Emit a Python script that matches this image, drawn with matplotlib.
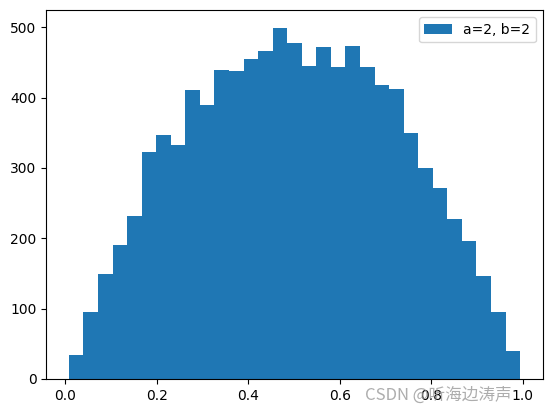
import numpy as np
import matplotlib
matplotlib.use("Agg")
import matplotlib.pyplot as plt

# Histogram counts (31 bins, beta(2,2) samples)
bin_start = 0.0074
bin_end = 0.9943
counts = [34, 95, 149, 190, 231, 322, 347, 332, 410, 390,
          439, 438, 455, 466, 499, 478, 445, 472, 444, 473,
          444, 418, 412, 349, 300, 271, 227, 196, 146, 95, 40]
label = "a=2, b=2"
watermark = "CSDN @听海边涛声"

edges = np.linspace(bin_start, bin_end, len(counts) + 1)
centers = (edges[:-1] + edges[1:]) / 2

fig = plt.figure(figsize=(5.52, 4.13), dpi=100)
ax = fig.add_axes([46.3 / 552, (413 - 379) / 413, 496.4 / 552, 368.7 / 413])
ax.hist(centers, bins=edges, weights=counts, color="#1f77b4", label=label)
ax.legend(loc="upper right")

fig.text(365 / 552, 1 - 395 / 413, watermark, fontsize=12, color="#999999",
         alpha=0.8, va="center", ha="left",
         family=["Noto Sans CJK SC", "DejaVu Sans"])

fig.savefig("out.png", dpi=100)
